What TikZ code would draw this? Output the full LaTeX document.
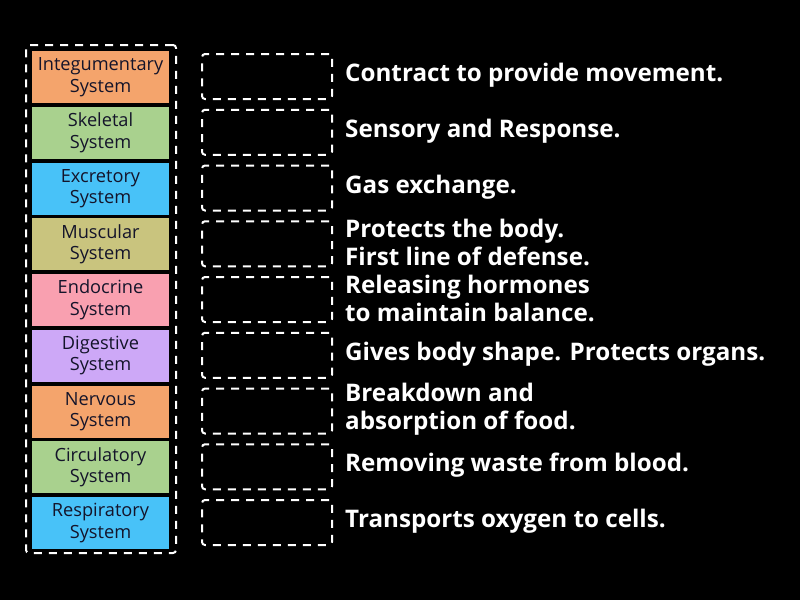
\documentclass[tikz,border=0pt]{standalone}
\usepackage{fontspec}
\setmainfont{Open Sans}
\definecolor{corange}{HTML}{F4A46C}
\definecolor{cgreen}{HTML}{A9D18E}
\definecolor{cblue}{HTML}{48C2F8}
\definecolor{ckhaki}{HTML}{C9C47E}
\definecolor{cpink}{HTML}{F9A0B0}
\definecolor{cpurple}{HTML}{CDA8F7}
\definecolor{ctext}{HTML}{14142A}
\begin{document}
\begin{tikzpicture}[x=1pt,y=-1pt,
  dashbox/.style={draw=white,line width=2pt,dash pattern=on 8pt off 7pt,rounded corners=3pt},
  sysbox/.style={minimum width=137pt,minimum height=52pt,inner sep=0pt,text=ctext,font=\fontsize{18.2}{21.5}\selectfont,align=center},
  slot/.style={dashbox,minimum width=130pt,minimum height=45pt,inner sep=0pt},
  desc/.style={anchor=west,text=white,font=\bfseries\fontsize{24.2}{28}\selectfont,align=left,inner sep=0pt}]
\fill[black] (0,0) rectangle (800,600);
\useasboundingbox (0,0) rectangle (800,600);
\node[dashbox,minimum width=150pt,minimum height=508pt,inner sep=0pt] (frame) at (101,299) {};
\foreach \i/\c/\t in {0/corange/Integumentary,1/cgreen/Skeletal,2/cblue/Excretory,3/ckhaki/Muscular,4/cpink/Endocrine,5/cpurple/Digestive,6/corange/Nervous,7/cgreen/Circulatory,8/cblue/Respiratory}{
  \node[sysbox,fill=\c] (s\i) at (100.5,{77+55.75*\i}) {\t\\System};
  \node[slot] (t\i) at (267,{76.5+55.75*\i}) {};
}
\node[desc] (d0) at (345,75.5) {Contract to provide movement.};
\node[desc] (d1) at (345,131.5) {Sensory and Response.};
\node[desc] (d2) at (345,187) {Gas exchange.};
\node[desc] (d3) at (345,242) {Protects the body.\\First line of defense.};
\node[desc] (d4) at (345,298) {Releasing hormones\\to maintain balance.};
\node[desc] (d5) at (345,354) {Gives body shape. Protects organs.};
\node[desc] (d6) at (345,409.5) {Breakdown and\\absorption of food.};
\node[desc] (d7) at (345,465.5) {Removing waste from blood.};
\node[desc] (d8) at (345,521.5) {Transports oxygen to cells.};
\end{tikzpicture}
\end{document}
